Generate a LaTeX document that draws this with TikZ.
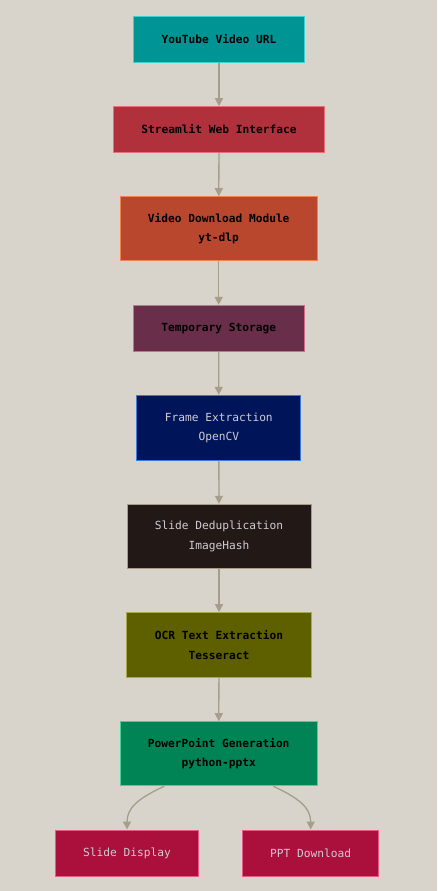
\documentclass[tikz,border=0pt]{standalone}
\usepackage{fontspec}
\setmonofont{DejaVu Sans Mono}
\usetikzlibrary{arrows.meta,calc}
\definecolor{bg}{HTML}{D8D3CB}
\definecolor{edge}{HTML}{A49E8A}
\definecolor{lighttext}{HTML}{CFCCD2}
\definecolor{f1}{HTML}{009494}\definecolor{d1}{HTML}{40D0D0}
\definecolor{f2}{HTML}{B0313C}\definecolor{d2}{HTML}{E8707A}
\definecolor{f3}{HTML}{B9472E}\definecolor{d3}{HTML}{F08450}
\definecolor{f4}{HTML}{692E4A}\definecolor{d4}{HTML}{D66A8A}
\definecolor{f5}{HTML}{00145A}\definecolor{d5}{HTML}{3C78DC}
\definecolor{f6}{HTML}{221916}\definecolor{d6}{HTML}{A89C88}
\definecolor{f7}{HTML}{5E6000}\definecolor{d7}{HTML}{AAA850}
\definecolor{f8}{HTML}{008456}\definecolor{d8}{HTML}{40D49A}
\definecolor{f9}{HTML}{AB0F3C}\definecolor{d9}{HTML}{E8588A}
\tikzset{
  box/.style={rectangle, line width=1pt, inner sep=0pt, align=center,
    font=\fontsize{11.2}{19.3}\selectfont\ttfamily},
  darktxt/.style={text=black, font=\fontsize{11.2}{19.3}\selectfont\ttfamily\bfseries},
  lighttxt/.style={text=lighttext},
  flow/.style={draw=edge, line width=1.3pt, -{Triangle[length=8pt,width=8pt]}},
}
\begin{document}
\begin{tikzpicture}[x=1pt,y=-1pt]
\useasboundingbox[fill=bg] (0,0) rectangle (437,891);
\node[box,darktxt,fill=f1,draw=d1,minimum width=170.7pt,minimum height=45.6pt] (url) at (219,39.5) {YouTube Video URL};
\node[box,darktxt,fill=f2,draw=d2,minimum width=211.4pt,minimum height=45.6pt] (web) at (219,129.5) {Streamlit Web Interface};
\node[box,darktxt,fill=f3,draw=d3,minimum width=197.3pt,minimum height=64pt] (dl) at (218.7,228.7) {Video Download Module\\yt-dlp};
\node[box,darktxt,fill=f4,draw=d4,minimum width=170.7pt,minimum height=46pt] (tmp) at (218.7,328.3) {Temporary Storage};
\node[box,lighttxt,fill=f5,draw=d5,minimum width=163.7pt,minimum height=64.7pt] (fr) at (218.8,427.7) {Frame Extraction\\OpenCV};
\node[box,lighttxt,fill=f6,draw=d6,minimum width=184pt,minimum height=64pt] (dd) at (219,536.3) {Slide Deduplication\\ImageHash};
\node[box,darktxt,fill=f7,draw=d7,minimum width=184.6pt,minimum height=64.6pt] (ocr) at (219,645) {OCR Text Extraction\\Tesseract};
\node[box,darktxt,fill=f8,draw=d8,minimum width=197.3pt,minimum height=64pt] (ppt) at (218.7,753.7) {PowerPoint Generation\\python-pptx};
\node[box,lighttxt,fill=f9,draw=d9,minimum width=143.4pt,minimum height=46pt] (sd) at (127,853) {Slide Display};
\node[box,lighttxt,fill=f9,draw=d9,minimum width=136pt,minimum height=46pt] (pd) at (310.7,853) {PPT Download};
\draw[flow] (url) -- (web);
\draw[flow] (web) -- (dl);
\draw[flow] (dl) -- (tmp);
\draw[flow] (tmp) -- (fr);
\draw[flow] (fr) -- (dd);
\draw[flow] (dd) -- (ocr);
\draw[flow] (ocr) -- (ppt);
\draw[flow] ($(ppt.south)+(-54.4,0)$) .. controls ($(ppt.south)+(-80,12)$) and ($(sd.north)+(0,-22)$) .. (sd.north);
\draw[flow] ($(ppt.south)+(54.6,0)$) .. controls ($(ppt.south)+(80,12)$) and ($(pd.north)+(0,-22)$) .. (pd.north);
\end{tikzpicture}
\end{document}
